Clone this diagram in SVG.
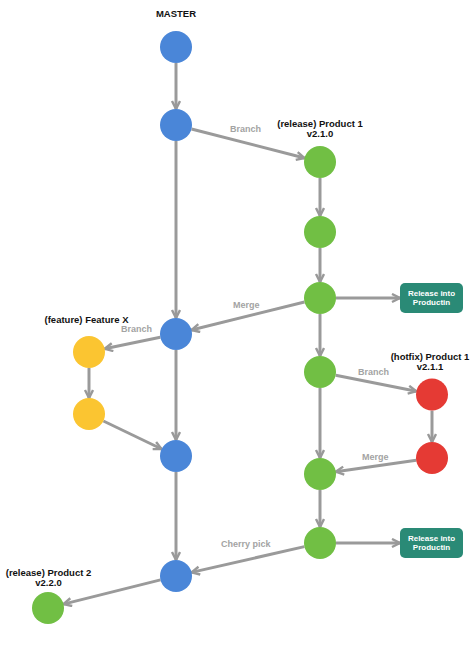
<svg xmlns="http://www.w3.org/2000/svg" width="474" height="660" viewBox="0 0 474 660">
<defs>
<marker id="arr" markerUnits="userSpaceOnUse" markerWidth="12" markerHeight="12" refX="9" refY="5" orient="auto">
<path d="M1,1 L9,5 L1,9" fill="none" stroke="#999" stroke-width="2.4" stroke-linejoin="miter"/>
</marker>
<style>
.e{stroke:#9a9a9a;stroke-width:3;fill:none;marker-end:url(#arr)}
.el{font-family:"Liberation Sans",Arial,sans-serif;font-size:9px;font-weight:bold;fill:#a3a3a3}
.nl{font-family:"Liberation Sans",Arial,sans-serif;font-size:9.5px;font-weight:bold;fill:#111;text-anchor:middle}
.bl{font-family:"Liberation Sans",Arial,sans-serif;font-size:8px;font-weight:bold;fill:#fff;text-anchor:middle}
.blue{fill:#4a86d8}
.green{fill:#71bf44}
.yellow{fill:#fbc531}
.red{fill:#e53a34}
.box{fill:#2a8a76}
</style>
</defs>
<rect width="474" height="660" fill="#fff"/>
<g id="connectors">
<line class="e" x1="176" y1="63" x2="176" y2="109"/>
<line class="e" x1="191.5" y1="129" x2="304.5" y2="158"/>
<line class="e" x1="320" y1="178" x2="320" y2="216"/>
<line class="e" x1="320" y1="248" x2="320" y2="282"/>
<line class="e" x1="336" y1="298" x2="400" y2="298"/>
<line class="e" x1="304.5" y1="302" x2="191.5" y2="330"/>
<line class="e" x1="176" y1="141" x2="176" y2="318"/>
<line class="e" x1="160.3" y1="337.2" x2="104.7" y2="348.8"/>
<line class="e" x1="89" y1="368" x2="89" y2="398"/>
<line class="e" x1="103.4" y1="421" x2="161.6" y2="449"/>
<line class="e" x1="176" y1="350" x2="176" y2="440"/>
<line class="e" x1="320" y1="314" x2="320" y2="356"/>
<line class="e" x1="335.7" y1="375.2" x2="416.3" y2="391.3"/>
<line class="e" x1="432" y1="410.5" x2="432" y2="442"/>
<line class="e" x1="416.2" y1="460.3" x2="335.8" y2="471.7"/>
<line class="e" x1="320" y1="388" x2="320" y2="458"/>
<line class="e" x1="320" y1="490" x2="320" y2="527"/>
<line class="e" x1="336" y1="543" x2="400" y2="543"/>
<line class="e" x1="304.4" y1="546.6" x2="191.6" y2="572.4"/>
<line class="e" x1="176" y1="472" x2="176" y2="560"/>
<line class="e" x1="160.5" y1="579.9" x2="63.5" y2="604.1"/>
<text class="el" x="230" y="132">Branch</text>
<text class="el" x="233" y="308">Merge</text>
<text class="el" x="121" y="332">Branch</text>
<text class="el" x="358" y="375">Branch</text>
<text class="el" x="362" y="460">Merge</text>
<text class="el" x="221" y="547">Cherry pick</text>
</g>
<g id="m1"><circle class="blue" cx="176" cy="47" r="16"/><text class="nl" x="176" y="17" font-size="9">MASTER</text></g>
<g id="m2"><circle class="blue" cx="176" cy="125" r="16"/></g>
<g id="m3"><circle class="blue" cx="176" cy="334" r="16"/></g>
<g id="m4"><circle class="blue" cx="176" cy="456" r="16"/></g>
<g id="m5"><circle class="blue" cx="176" cy="576" r="16"/></g>
<g id="r1"><circle class="green" cx="320" cy="162" r="16"/><text class="nl" x="320" y="127">(release) Product 1</text><text class="nl" x="320" y="137">v2.1.0</text></g>
<g id="r2"><circle class="green" cx="320" cy="232" r="16"/></g>
<g id="r3"><circle class="green" cx="320" cy="298" r="16"/></g>
<g id="r4"><circle class="green" cx="320" cy="372" r="16"/></g>
<g id="r5"><circle class="green" cx="320" cy="474" r="16"/></g>
<g id="r6"><circle class="green" cx="320" cy="543" r="16"/></g>
<g id="rel1"><rect class="box" x="400" y="283" width="63" height="30" rx="5"/><text class="bl" x="431.5" y="296">Release into</text><text class="bl" x="431.5" y="305">Productin</text></g>
<g id="rel2"><rect class="box" x="400" y="528" width="63" height="30" rx="5"/><text class="bl" x="431.5" y="541">Release into</text><text class="bl" x="431.5" y="550">Productin</text></g>
<g id="f1"><circle class="yellow" cx="89" cy="352" r="16"/><text class="nl" x="86.5" y="323">(feature) Feature X</text></g>
<g id="f2"><circle class="yellow" cx="89" cy="414" r="16"/></g>
<g id="h1"><circle class="red" cx="432" cy="394.5" r="16"/><text class="nl" x="430" y="360">(hotfix) Product 1</text><text class="nl" x="430" y="370">v2.1.1</text></g>
<g id="h2"><circle class="red" cx="432" cy="458" r="16"/></g>
<g id="p2"><circle class="green" cx="48" cy="608" r="16"/><text class="nl" x="48.5" y="576">(release) Product 2</text><text class="nl" x="48.5" y="586">v2.2.0</text></g>
</svg>
